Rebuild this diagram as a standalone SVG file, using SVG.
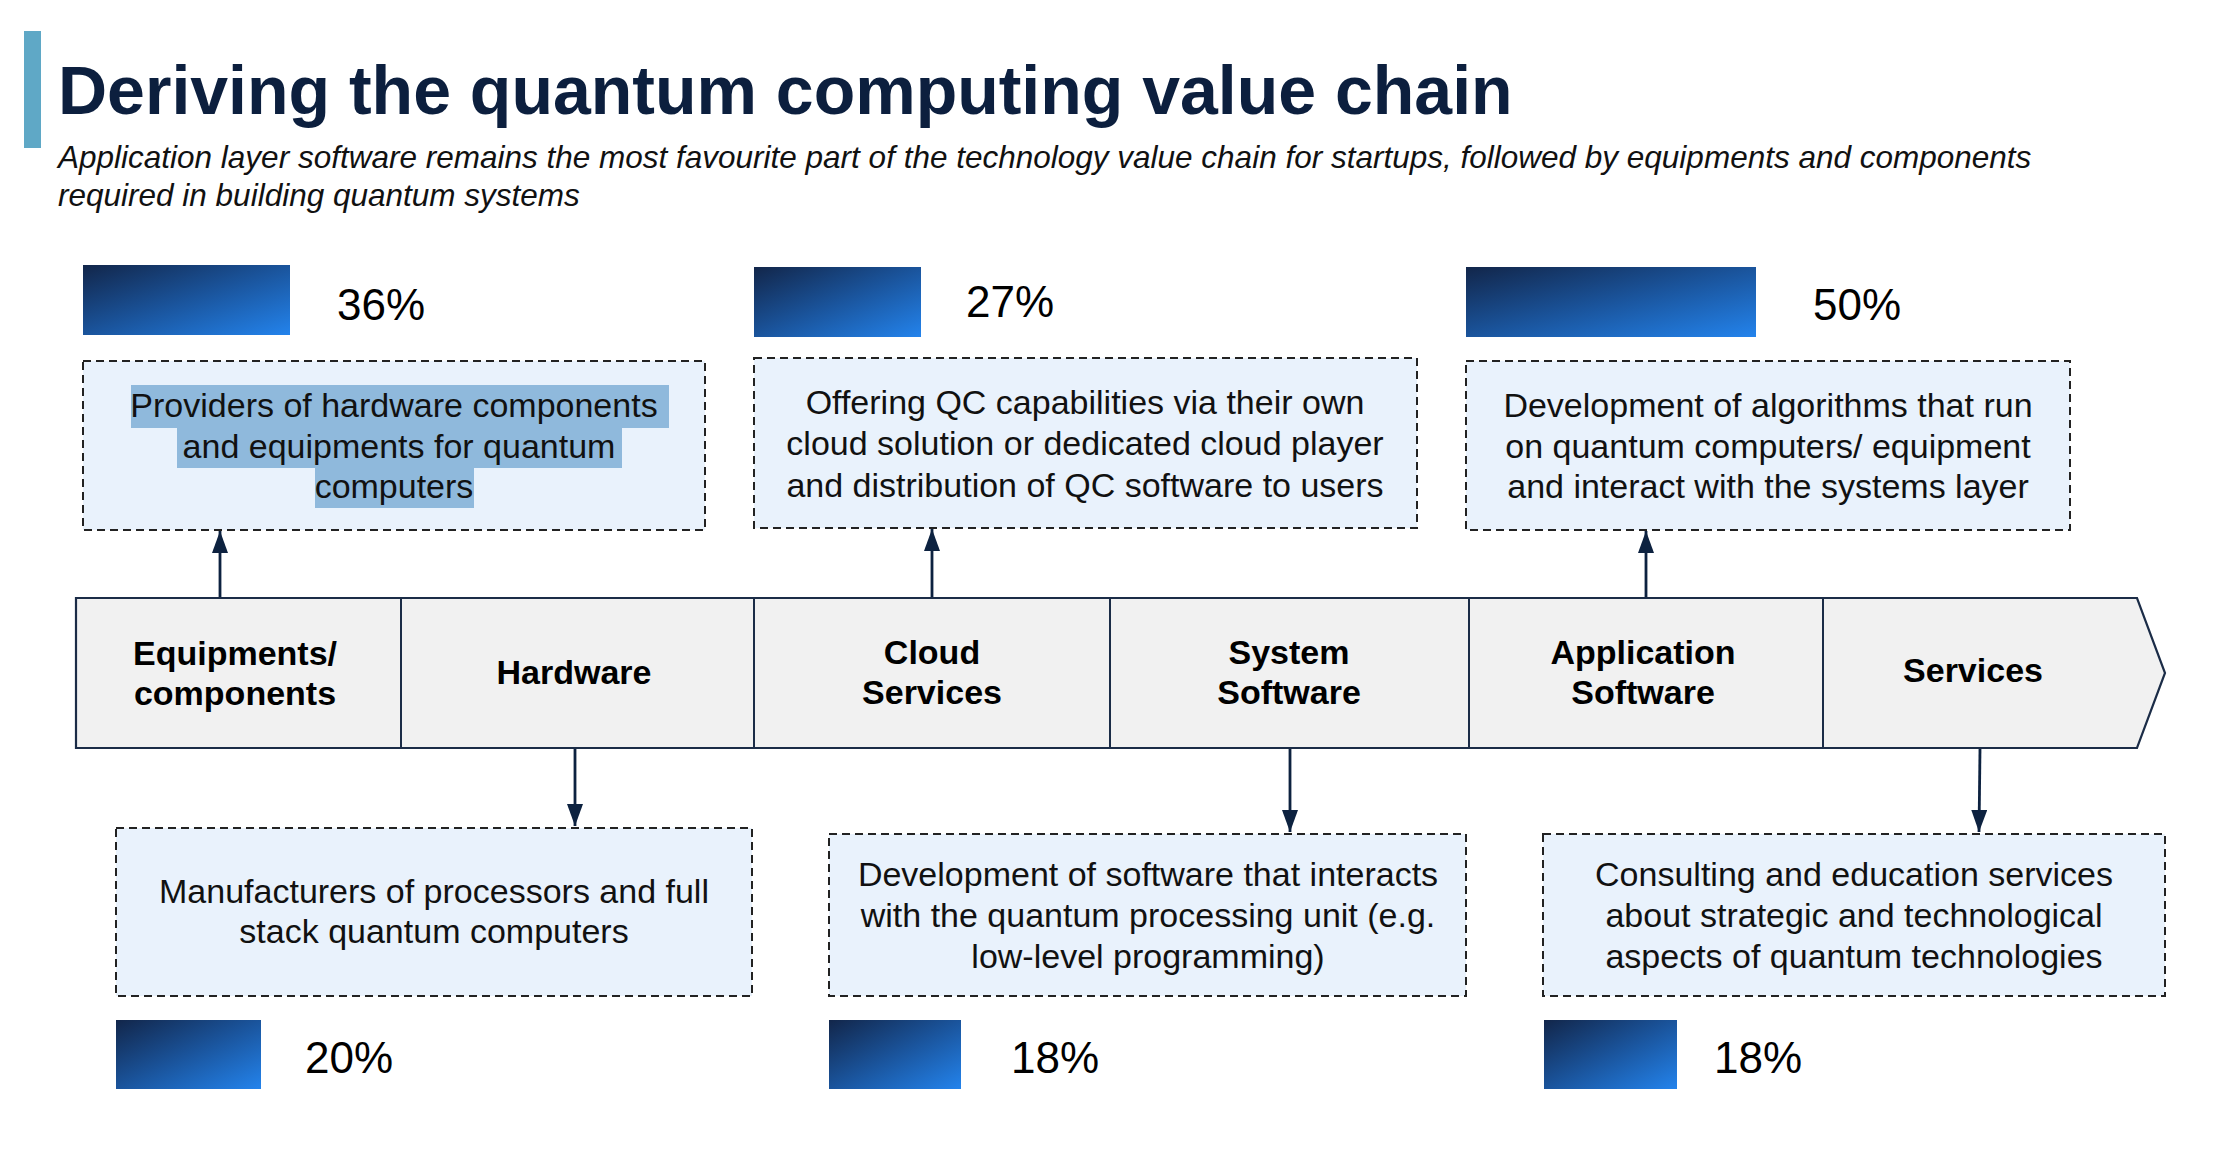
<svg xmlns="http://www.w3.org/2000/svg" width="2238" height="1167" viewBox="0 0 2238 1167">
<defs>
<linearGradient id="bar" x1="0" y1="0" x2="1" y2="1">
<stop offset="0" stop-color="#12264a"/>
<stop offset="0.5" stop-color="#1a549c"/>
<stop offset="1" stop-color="#2383ec"/>
</linearGradient>
<marker id="ah" viewBox="0 0 22 16" refX="22" refY="8" markerWidth="22" markerHeight="16" markerUnits="userSpaceOnUse" orient="auto">
<path d="M0,0 L22,8 L0,16 Z" fill="#0d2240"/>
</marker>
<style>
.t{font-family:"Liberation Sans",Arial,sans-serif}
.title{font-size:68px;font-weight:bold;fill:#0c1f3e}
.sub{font-size:31.5px;font-style:italic;fill:#111}
.pct{font-size:44px;fill:#000}
.desc{font-size:34px;fill:#111;text-anchor:middle}
.lab{font-size:34px;font-weight:bold;fill:#000;text-anchor:middle}
.box{fill:#e9f2fc;stroke:#222;stroke-width:2;stroke-dasharray:8 5}
.seg{fill:#f1f1f1;stroke:#1b2c47;stroke-width:2.2}
.con{stroke:#0d2240;stroke-width:2.8;fill:none;marker-end:url(#ah)}
.hl{fill:#8fb9dc}
</style>
</defs>
<rect width="2238" height="1167" fill="#fff"/>
<g id="header">
<rect x="24" y="31" width="17" height="117" fill="#5fa8c6"/>
<text class="t title" x="58" y="114">Deriving the quantum computing value chain</text>
<text class="t sub" x="58" y="168">Application layer software remains the most favourite part of the technology value chain for startups, followed by equipments and components</text>
<text class="t sub" x="58" y="206">required in building quantum systems</text>
</g>
<g id="chain">
<path class="seg" d="M76,598 H2137 L2165,673 L2137,748 H76 Z"/>
<line x1="401" y1="598" x2="401" y2="748" stroke="#1b2c47" stroke-width="2"/>
<line x1="754" y1="598" x2="754" y2="748" stroke="#1b2c47" stroke-width="2"/>
<line x1="1110" y1="598" x2="1110" y2="748" stroke="#1b2c47" stroke-width="2"/>
<line x1="1469" y1="598" x2="1469" y2="748" stroke="#1b2c47" stroke-width="2"/>
<line x1="1823" y1="598" x2="1823" y2="748" stroke="#1b2c47" stroke-width="2"/>
</g>
<g id="seg-equipments"><text class="t lab" x="235" y="665">Equipments/</text><text class="t lab" x="235" y="705">components</text></g>
<g id="seg-hardware"><text class="t lab" x="574" y="684">Hardware</text></g>
<g id="seg-cloud"><text class="t lab" x="932" y="664">Cloud</text><text class="t lab" x="932" y="704">Services</text></g>
<g id="seg-system"><text class="t lab" x="1289" y="664">System</text><text class="t lab" x="1289" y="704">Software</text></g>
<g id="seg-application"><text class="t lab" x="1643" y="664">Application</text><text class="t lab" x="1643" y="704">Software</text></g>
<g id="seg-services"><text class="t lab" x="1973" y="682">Services</text></g>

<g id="box-equipments">
<rect class="box" x="83" y="361" width="622" height="169"/>
<rect class="hl" x="131" y="385" width="538" height="43"/>
<rect class="hl" x="177" y="428" width="445" height="40"/>
<rect class="hl" x="315" y="468" width="159" height="40"/>
<text class="t desc" x="394" y="417">Providers of hardware components</text>
<text class="t desc" x="399" y="458">and equipments for quantum</text>
<text class="t desc" x="394" y="498">computers</text>
</g>
<g id="box-cloud">
<rect class="box" x="754" y="358" width="663" height="170"/>
<text class="t desc" x="1085" y="414">Offering QC capabilities via their own</text>
<text class="t desc" x="1085" y="455">cloud solution or dedicated cloud player</text>
<text class="t desc" x="1085" y="497">and distribution of QC software to users</text>
</g>
<g id="box-application">
<rect class="box" x="1466" y="361" width="604" height="169"/>
<text class="t desc" x="1768" y="417">Development of algorithms that run</text>
<text class="t desc" x="1768" y="458">on quantum computers/ equipment</text>
<text class="t desc" x="1768" y="498">and interact with the systems layer</text>
</g>
<g id="box-hardware">
<rect class="box" x="116" y="828" width="636" height="168"/>
<text class="t desc" x="434" y="903">Manufacturers of processors and full</text>
<text class="t desc" x="434" y="943">stack quantum computers</text>
</g>
<g id="box-system">
<rect class="box" x="829" y="834" width="637" height="162"/>
<text class="t desc" x="1148" y="886">Development of software that interacts</text>
<text class="t desc" x="1148" y="927">with the quantum processing unit (e.g.</text>
<text class="t desc" x="1148" y="968">low-level programming)</text>
</g>
<g id="box-services">
<rect class="box" x="1543" y="834" width="622" height="162"/>
<text class="t desc" x="1854" y="886">Consulting and education services</text>
<text class="t desc" x="1854" y="927">about strategic and technological</text>
<text class="t desc" x="1854" y="968">aspects of quantum technologies</text>
</g>

<g id="pct-equipments"><rect x="83" y="265" width="207" height="70" fill="url(#bar)"/><text class="t pct" x="337" y="320">36%</text></g>
<g id="pct-cloud"><rect x="754" y="267" width="167" height="70" fill="url(#bar)"/><text class="t pct" x="966" y="317">27%</text></g>
<g id="pct-application"><rect x="1466" y="267" width="290" height="70" fill="url(#bar)"/><text class="t pct" x="1813" y="320">50%</text></g>
<g id="pct-hardware"><rect x="116" y="1020" width="145" height="69" fill="url(#bar)"/><text class="t pct" x="305" y="1073">20%</text></g>
<g id="pct-system"><rect x="829" y="1020" width="132" height="69" fill="url(#bar)"/><text class="t pct" x="1011" y="1073">18%</text></g>
<g id="pct-services"><rect x="1544" y="1020" width="133" height="69" fill="url(#bar)"/><text class="t pct" x="1714" y="1073">18%</text></g>

<g id="connectors">
<line class="con" x1="220" y1="597" x2="220" y2="531"/>
<line class="con" x1="932" y1="597" x2="932" y2="529"/>
<line class="con" x1="1646" y1="597" x2="1646" y2="531"/>
<line class="con" x1="575" y1="749" x2="575" y2="826"/>
<line class="con" x1="1290" y1="749" x2="1290" y2="832"/>
<line class="con" x1="1980" y1="749" x2="1979" y2="832"/>
</g>
</svg>
